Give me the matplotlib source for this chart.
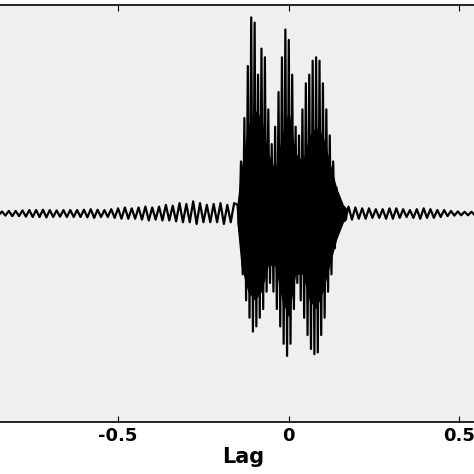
import numpy as np
import matplotlib
matplotlib.use("Agg")
import matplotlib.pyplot as plt

# left tail ripples (lag step 0.01 from -0.86)
left_lag = [round(-0.86 + 0.01 * i, 3) for i in range(71)]
left_val = [0.01, -0.01, 0.012, -0.012, 0.015, -0.015, 0.015, -0.015, 0.018, -0.018,
            0.02, -0.02, 0.02, -0.02, 0.022, -0.022, 0.02, -0.02, 0.018, -0.018,
            0.02, -0.02, 0.02, -0.02, 0.02, -0.02, 0.022, -0.022, 0.025, -0.025,
            0.022, -0.02, 0.02, -0.02, 0.025, -0.025, 0.03, -0.03, 0.035, -0.03,
            0.03, -0.03, 0.035, -0.035, 0.04, -0.04, 0.035, -0.035, 0.04, -0.04,
            0.05, -0.04, 0.045, -0.045, 0.06, -0.05, 0.055, -0.05, 0.07, -0.06,
            0.06, -0.05, 0.05, -0.05, 0.055, -0.05, 0.06, -0.06, 0.05, -0.05, 0.06]

# main burst spikes (lag step 0.005 from -0.15)
burst_lag = [round(-0.15 + 0.005 * i, 4) for i in range(63)]
burst_val = [0.05, -0.1, 0.3, -0.35, 0.55, -0.5, 0.85, -0.6, 1.13, -0.68,
             1.1, -0.65, 0.8, -0.6, 0.95, -0.55, 0.9, -0.45, 0.6, -0.4,
             0.4, -0.45, 0.5, -0.55, 0.7, -0.65, 0.9, -0.75, 1.06, -0.82,
             1.0, -0.75, 0.8, -0.55, 0.5, -0.4, 0.45, -0.5, 0.6, -0.6,
             0.75, -0.7, 0.8, -0.78, 0.88, -0.81, 0.9, -0.8, 0.88, -0.7,
             0.75, -0.6, 0.6, -0.45, 0.45, -0.35, 0.3, -0.2, 0.15, -0.1,
             0.07, -0.05, 0.04]

# dense core of the burst (filled region)
core_lag = [-0.152, -0.14, -0.12, -0.10, -0.08, -0.06, -0.04, -0.02, 0.0,
            0.02, 0.04, 0.06, 0.08, 0.10, 0.12, 0.14, 0.16, 0.17]
core_up = [0.05, 0.25, 0.5, 0.6, 0.55, 0.35, 0.25, 0.45, 0.6,
           0.35, 0.3, 0.45, 0.5, 0.45, 0.3, 0.15, 0.05, 0.03]
core_lo = [-0.05, -0.3, -0.45, -0.5, -0.45, -0.3, -0.3, -0.5, -0.6,
           -0.35, -0.35, -0.5, -0.55, -0.45, -0.3, -0.15, -0.05, -0.03]

# right tail ripples (lag step 0.01 from 0.165)
right_lag = [round(0.165 + 0.01 * i, 3) for i in range(40)]
right_val = [-0.04, 0.04, -0.035, 0.035, -0.03, 0.03, -0.03, 0.03, -0.025, 0.025,
             -0.025, 0.025, -0.03, 0.03, -0.03, 0.03, -0.025, 0.025, -0.02, 0.02,
             -0.025, 0.025, -0.03, 0.03, -0.025, 0.025, -0.025, 0.02, -0.02, 0.02,
             -0.015, 0.015, -0.012, 0.012, -0.01, 0.01, -0.01, 0.01, -0.01, 0.01]

lag = left_lag + burst_lag + right_lag
val = left_val + burst_val + right_val

fig = plt.figure(figsize=(4.74, 4.74), dpi=100)
ax = fig.add_axes([-0.003, 0.11, 1.03, 0.879])
ax.set_facecolor("#efefef")
fig.patch.set_facecolor("white")
ax.fill_between(core_lag, core_lo, core_up, color="black", lw=0)
ax.plot(lag, val, color="black", lw=1.6)
ax.set_xlim(-0.85, 0.58)
ax.set_ylim(-1.2, 1.2)
ax.set_xticks([-0.5, 0, 0.5])
ax.set_xticklabels(["-0.5", "0", "0.5"], fontsize=13, fontweight="bold")
ax.set_yticks([])
ax.tick_params(axis="x", direction="in", length=4, top=True)
ax.set_xlabel("Lag", fontsize=15, fontweight="bold", labelpad=2)
for s in ax.spines.values():
    s.set_linewidth(1.2)
fig.savefig("out.png", dpi=100)
